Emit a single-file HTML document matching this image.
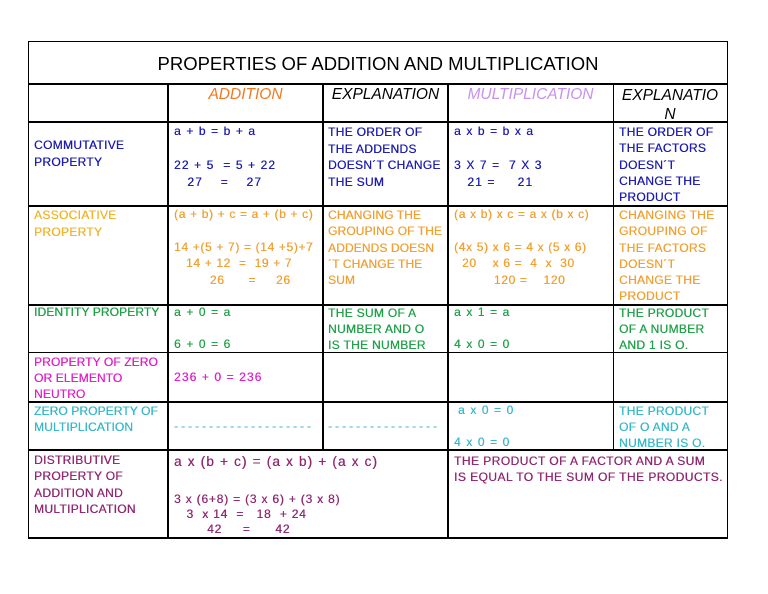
<!DOCTYPE html>
<html><head><meta charset="utf-8"><style>
body{margin:0;background:#fff;width:768px;height:594px;position:relative;overflow:hidden;font-family:"Liberation Sans",sans-serif}
.l{position:absolute;background:#000}
.t{position:absolute;font-size:12px;white-space:pre;line-height:14px;letter-spacing:0.3px;text-shadow:0.3px 0 0 currentColor}
.e{letter-spacing:1.1px}
.b{color:#1c1cb0}.o{color:#f0a030}.y{color:#f0b428}.g{color:#20a048}.m{color:#e020c8}.c{color:#38b8c8}.p{color:#902870}
.h{position:absolute;font-style:italic;font-size:15.5px;white-space:pre}
</style></head><body>
<div class="l" style="left:28px;top:41px;width:700px;height:1px"></div>
<div class="l" style="left:28px;top:83px;width:700px;height:2px"></div>
<div class="l" style="left:28px;top:121px;width:700px;height:2px"></div>
<div class="l" style="left:28px;top:205px;width:700px;height:2px"></div>
<div class="l" style="left:28px;top:304px;width:700px;height:2px"></div>
<div class="l" style="left:28px;top:352px;width:700px;height:1px"></div>
<div class="l" style="left:28px;top:401px;width:700px;height:2px"></div>
<div class="l" style="left:28px;top:449px;width:700px;height:2px"></div>
<div class="l" style="left:28px;top:537px;width:700px;height:2px"></div>
<div class="l" style="left:28px;top:41px;width:1px;height:498px"></div>
<div class="l" style="left:727px;top:41px;width:1px;height:498px"></div>
<div class="l" style="left:167px;top:84px;width:2px;height:455px"></div>
<div class="l" style="left:322px;top:84px;width:2px;height:366px"></div>
<div class="l" style="left:447px;top:84px;width:2px;height:455px"></div>
<div class="l" style="left:613px;top:84px;width:1px;height:366px"></div>

<div style="position:absolute;left:28px;top:53px;width:700px;text-align:center;font-size:18.5px">PROPERTIES OF ADDITION AND MULTIPLICATION</div>
<div class="h" style="left:168px;width:155px;text-align:center;top:86px;color:#f07820">ADDITION</div>
<div class="h" style="left:323px;width:125px;text-align:center;top:86px">EXPLANATION</div>
<div class="h" style="left:448px;width:165px;text-align:center;top:86px;color:#c890f0">MULTIPLICATION</div>
<div class="h" style="left:613px;width:114px;text-align:center;top:86px;line-height:19px">EXPLANATIO<br>N</div>

<div class="t b" style="left:34px;top:137px;line-height:17px">COMMUTATIVE
PROPERTY</div>
<div class="t b e" style="left:174px;top:124px">a + b = b + a</div>
<div class="t b e" style="left:174px;top:157px;line-height:16.5px">22 + 5  = 5 + 22
   27    =    27</div>
<div class="t b" style="left:328px;top:124px;line-height:16.5px">THE ORDER OF
THE ADDENDS
DOESN´T CHANGE
THE SUM</div>
<div class="t b e" style="left:454px;top:124px">a x b = b x a</div>
<div class="t b e" style="left:454px;top:157px;line-height:16.5px">3 X 7 =  7 X 3
   21 =     21</div>
<div class="t b" style="left:619px;top:124px;line-height:16.3px">THE ORDER OF
THE FACTORS
DOESN´T
CHANGE THE
PRODUCT</div>

<div class="t y" style="left:34px;top:207px;line-height:16.5px">ASSOCIATIVE
PROPERTY</div>
<div class="t o e" style="left:174px;top:207px;letter-spacing:0.65px">(a + b) + c = a + (b + c)</div>
<div class="t o e" style="left:174px;top:239px;line-height:16.3px;letter-spacing:0.65px">14 +(5 + 7) = (14 +5)+7
   14 + 12  =  19 + 7
         26      =     26</div>
<div class="t o" style="left:328px;top:207px;line-height:16.3px;letter-spacing:0.1px">CHANGING THE
GROUPING OF THE
ADDENDS DOESN
´T CHANGE THE
SUM</div>
<div class="t o e" style="left:454px;top:207px;letter-spacing:0.65px">(a x b) x c = a x (b x c)</div>
<div class="t o e" style="left:454px;top:239px;line-height:16.3px;letter-spacing:0.65px">(4x 5) x 6 = 4 x (5 x 6)
  20    x 6 =  4  x  30
          120 =    120</div>
<div class="t o" style="left:619px;top:207px;line-height:16.3px">CHANGING THE
GROUPING OF
THE FACTORS
DOESN´T
CHANGE THE
PRODUCT</div>

<div class="t g" style="left:34px;top:305px;letter-spacing:0.1px">IDENTITY PROPERTY</div>
<div class="t g e" style="left:174px;top:305px">a + 0 = a</div>
<div class="t g e" style="left:174px;top:337px">6 + 0 = 6</div>
<div class="t g" style="left:328px;top:305px;line-height:16px">THE SUM OF A
NUMBER AND O
IS THE NUMBER</div>
<div class="t g e" style="left:454px;top:305px">a x 1 = a</div>
<div class="t g e" style="left:454px;top:337px">4 x 0 = 0</div>
<div class="t g" style="left:619px;top:305px;line-height:16px">THE PRODUCT
OF A NUMBER
AND 1 IS O.</div>

<div class="t m" style="left:34px;top:354px;line-height:16px;letter-spacing:0.1px">PROPERTY OF ZERO
OR ELEMENTO
NEUTRO</div>
<div class="t m e" style="left:174px;top:370px">236 + 0 = 236</div>

<div class="t c" style="left:34px;top:403px;line-height:16px;letter-spacing:0.1px">ZERO PROPERTY OF
MULTIPLICATION</div>
<div class="t c" style="left:174px;top:419px;letter-spacing:3px">--------------------</div>
<div class="t c" style="left:328px;top:419px;letter-spacing:3px">----------------</div>
<div class="t c e" style="left:458px;top:403px">a x 0 = 0</div>
<div class="t c e" style="left:454px;top:435px">4 x 0 = 0</div>
<div class="t c" style="left:619px;top:403px;line-height:16px">THE PRODUCT
OF O AND A
NUMBER IS O.</div>

<div class="t p" style="left:34px;top:452px;line-height:16.3px">DISTRIBUTIVE
PROPERTY OF
ADDITION AND
MULTIPLICATION</div>
<div class="t p" style="left:174px;top:454px;font-size:13.5px;line-height:16px;letter-spacing:1.2px">a x (b + c) = (a x b) + (a x c)</div>
<div class="t p" style="left:174px;top:492px;line-height:15px;letter-spacing:0.8px">3 x (6+8) = (3 x 6) + (3 x 8)
   3  x 14  =   18  + 24
        42     =      42</div>
<div class="t p" style="left:454px;top:453px;line-height:16px;letter-spacing:0.45px">THE PRODUCT OF A FACTOR AND A SUM
IS EQUAL TO THE SUM OF THE PRODUCTS.</div>
</body></html>
